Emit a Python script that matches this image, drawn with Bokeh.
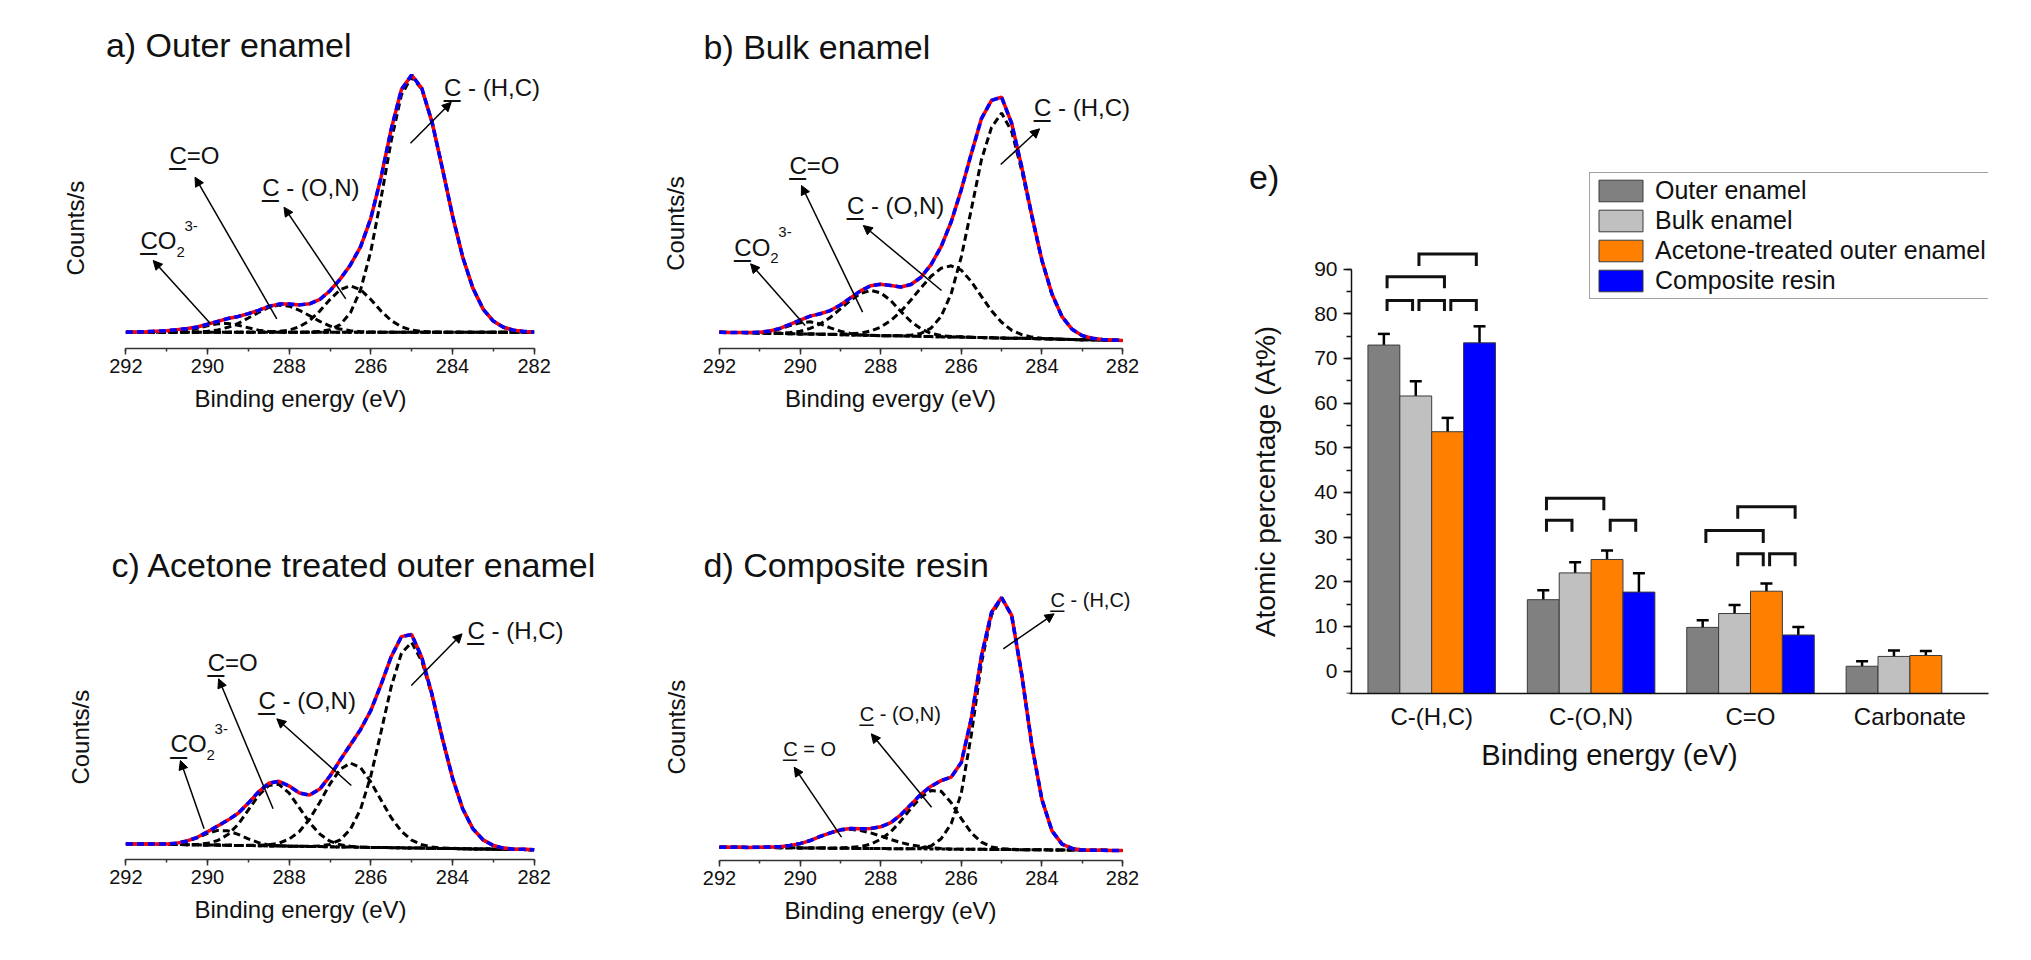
from bokeh.plotting import figure
from bokeh.layouts import row, column
from bokeh.models import (Range1d, SingleIntervalTicker, FixedTicker, Label, Arrow,
                          NormalHead, Whisker, TeeHead, ColumnDataSource)
from bokeh.embed import file_html
from bokeh.resources import INLINE

FONT = "Liberation Sans"
MID = 0.3465   # distance (in em) from the alphabetic baseline to the "middle" text baseline

# ---------------------------------------------------------------- spectra data
# C1s spectra, normalised counts, sampled every 0.25 eV from 292 eV down to 282 eV
energy = [292.0 - 0.25 * i for i in range(41)]

# a) Outer enamel
a_env = [0.000, 0.001, 0.002, 0.004, 0.006, 0.010, 0.014, 0.020, 0.031, 0.042,
         0.053, 0.061, 0.072, 0.085, 0.100, 0.109, 0.109, 0.106, 0.110, 0.127,
         0.161, 0.206, 0.261, 0.332, 0.442, 0.601, 0.788, 0.942, 0.998, 0.946,
         0.815, 0.638, 0.453, 0.292, 0.171, 0.090, 0.043, 0.019, 0.008, 0.003, 0.001]
a_base = [0.0] * 41
a_co3 = [0, 0, 0, 0, .001, .002, .007, .015, .025, .033,
         .034, .027, .017, .008, .003, .001, 0, 0, 0, 0,
         0, 0, 0, 0, 0, 0, 0, 0, 0, 0,
         0, 0, 0, 0, 0, 0, 0, 0, 0, 0, 0]
a_co = [0, 0, 0, 0, 0, 0, .001, .001, .004, .009,
        .019, .034, .055, .077, .096, .105, .101, .085, .064, .042,
        .024, .012, .006, .002, .001, 0, 0, 0, 0, 0,
        0, 0, 0, 0, 0, 0, 0, 0, 0, 0, 0]
a_con = [0, 0, 0, 0, 0, 0, 0, 0, 0, 0,
         0, 0, 0, 0, .001, .003, .008, .021, .045, .082,
         .127, .165, .180, .165, .127, .082, .045, .021, .008, .003,
         .001, 0, 0, 0, 0, 0, 0, 0, 0, 0, 0]
a_chc = [0, 0, 0, 0, 0, 0, 0, 0, 0, 0,
         0, 0, 0, 0, 0, 0, 0, 0, .001, .003,
         .010, .029, .075, .165, .314, .519, .743, .921, .990, .943,
         .814, .638, .453, .292, .171, .090, .043, .019, .008, .003, .001]

# b) Bulk enamel
b_env = [.034, .033, .033, .033, .034, .039, .050, .066, .084, .100,
         .110, .123, .146, .175, .204, .225, .231, .226, .220, .230,
         .260, .312, .386, .488, .620, .769, .912, .987, 1.000, .892,
         .713, .514, .330, .191, .098, .046, .020, .009, .004, .002, 0]
b_base = [.034, .033, .033, .032, .031, .030, .029, .028, .027, .027,
          .026, .025, .024, .023, .022, .021, .020, .020, .019, .018,
          .017, .016, .015, .014, .014, .013, .012, .011, .010, .009,
          .009, .008, .007, .006, .005, .004, .003, .003, .002, .001, 0]
b_co3 = [0, 0, 0, .001, .003, .008, .019, .033, .046, .050,
         .042, .027, .014, .006, .002, .001, 0, 0, 0, 0,
         0, 0, 0, 0, 0, 0, 0, 0, 0, 0,
         0, 0, 0, 0, 0, 0, 0, 0, 0, 0, 0]
b_co = [0, 0, 0, 0, 0, .001, .002, .005, .011, .023,
        .042, .070, .106, .142, .171, .185, .176, .144, .100, .060,
        .031, .013, .005, .002, .001, 0, 0, 0, 0, 0,
        0, 0, 0, 0, 0, 0, 0, 0, 0, 0, 0]
b_con = [0, 0, 0, 0, 0, 0, 0, 0, 0, 0,
         0, .001, .002, .004, .009, .018, .035, .062, .100, .148,
         .200, .248, .282, .293, .275, .229, .169, .111, .065, .033,
         .015, .006, .002, .001, 0, 0, 0, 0, 0, 0, 0]
b_chc = [0, 0, 0, 0, 0, 0, 0, 0, 0, 0,
         0, 0, 0, 0, 0, 0, 0, 0, .001, .004,
         .012, .035, .084, .179, .330, .527, .731, .865, .925, .850,
         .689, .500, .321, .184, .093, .042, .017, .006, .002, .001, 0]

# c) Acetone treated outer enamel
c_env = [.028, .027, .027, .027, .027, .031, .041, .058, .084, .111,
         .138, .170, .217, .269, .309, .318, .296, .264, .254, .282,
         .343, .417, .488, .559, .647, .767, .897, .990, 1.000, .892,
         .721, .520, .335, .191, .098, .046, .020, .008, .003, .002, 0]
c_base = [.028, .027, .027, .026, .025, .025, .024, .023, .022, .022,
          .021, .020, .020, .019, .018, .018, .017, .016, .015, .015,
          .014, .013, .013, .012, .011, .011, .010, .009, .008, .008,
          .007, .006, .006, .005, .004, .004, .003, .002, .001, .001, 0]
c_co3 = [0, 0, 0, .001, .002, .006, .016, .033, .054, .068,
         .067, .052, .031, .014, .005, .001, 0, 0, 0, 0,
         0, 0, 0, 0, 0, 0, 0, 0, 0, 0,
         0, 0, 0, 0, 0, 0, 0, 0, 0, 0, 0]
c_co = [0, 0, 0, 0, 0, 0, .001, .002, .008, .021,
        .050, .098, .165, .234, .281, .286, .246, .179, .111, .058,
        .026, .010, .003, .001, 0, 0, 0, 0, 0, 0,
        0, 0, 0, 0, 0, 0, 0, 0, 0, 0, 0]
c_con = [0, 0, 0, 0, 0, 0, 0, 0, 0, 0,
         0, 0, .001, .002, .005, .013, .033, .069, .127, .206,
         .292, .361, .390, .369, .304, .220, .139, .077, .037, .016,
         .006, .002, .001, 0, 0, 0, 0, 0, 0, 0, 0]
c_chc = [0, 0, 0, 0, 0, 0, 0, 0, 0, 0,
         0, 0, 0, 0, 0, 0, 0, 0, .001, .003,
         .011, .033, .082, .177, .332, .536, .748, .904, .955, .868,
         .708, .512, .328, .186, .094, .042, .017, .006, .002, .001, 0]

# d) Composite resin
d_env = [.013, .013, .013, .012, .013, .014, .015, .020, .027, .039,
         .055, .069, .081, .086, .085, .086, .093, .109, .140, .180,
         .221, .252, .274, .288, .345, .519, .763, .934, .992, .922,
         .689, .414, .200, .077, .025, .008, .002, .001, .001, 0, 0]
d_base = [.013, .013, .013, .012, .012, .012, .011, .011, .010, .010,
          .010, .009, .009, .009, .008, .008, .008, .007, .007, .007,
          .007, .006, .006, .005, .005, .005, .005, .004, .004, .004,
          .003, .003, .003, .002, .002, .002, .001, .001, .001, 0, 0]
d_co = [0, 0, 0, 0, .001, .002, .004, .009, .017, .029,
        .045, .060, .071, .074, .070, .061, .049, .036, .024, .015,
        .009, .005, .002, .001, 0, 0, 0, 0, 0, 0,
        0, 0, 0, 0, 0, 0, 0, 0, 0, 0, 0]
d_con = [0, 0, 0, 0, 0, 0, 0, 0, 0, 0,
         0, 0, .001, .003, .007, .017, .036, .066, .109, .158,
         .202, .229, .226, .182, .120, .064, .028, .010, .003, .001,
         0, 0, 0, 0, 0, 0, 0, 0, 0, 0, 0]
d_chc = [0, 0, 0, 0, 0, 0, 0, 0, 0, 0,
         0, 0, 0, 0, 0, 0, 0, 0, 0, 0,
         .003, .012, .040, .100, .220, .450, .730, .920, .985, .917,
         .686, .411, .197, .075, .023, .006, .001, 0, 0, 0, 0]

# ---------------------------------------------------------------- bar chart data
categories = ["C-(H,C)", "C-(O,N)", "C=O", "Carbonate"]
series_names = ["Outer enamel", "Bulk enamel", "Acetone-treated outer enamel", "Composite resin"]
outer_vals = [73.0, 16.0, 9.8, 1.1]
outer_err = [2.5, 2.1, 1.6, 1.1]
bulk_vals = [61.6, 22.0, 12.9, 3.3]
bulk_err = [3.3, 2.4, 1.9, 1.3]
acetone_vals = [53.6, 25.0, 17.9, 3.5]
acetone_err = [3.1, 2.0, 1.7, 1.0]
resin_vals = [73.5, 17.7, 8.1, None]
resin_err = [3.7, 4.2, 1.8, None]

# significance brackets: category, first bar, second bar, top, leg end
br_cat = [0, 0, 0, 0, 0, 1, 1, 1, 2, 2, 2, 2]
br_from = [0, 1, 2, 0, 1, 0, 2, 0, 0, 1, 1, 2]
br_to = [1, 2, 3, 2, 3, 1, 3, 2, 2, 3, 2, 3]
br_top = [83.0, 83.0, 83.0, 88.3, 93.4, 33.8, 33.8, 38.7, 31.5, 36.8, 26.3, 26.3]
br_leg = [80.6, 80.6, 80.6, 85.7, 90.7, 31.2, 31.2, 36.0, 28.7, 34.1, 23.5, 23.5]

# ---------------------------------------------------------------- helpers
TXT = "#111111"


def text_label(x, base_y_fn, base_py, text, fs, **kw):
    """Label whose alphabetic baseline sits at canvas row base_py (drawn with 'middle')."""
    return Label(x=x, y=base_y_fn(base_py - MID * fs), text=text, text_font=FONT,
                 text_font_size=f"{fs}px", text_color=TXT, text_baseline="middle",
                 text_align="left", **kw)


def spectrum_panel(geom, title, xlabel, env, base, comps, tags, tag_size):
    fx0, fy0, fw, fh = geom["fig"]
    fb = geom["frame_bottom"]
    e0, e1 = geom["e292"], geom["e282"]
    z, o = geom["zero"], geom["one"]
    s = (e1 - e0) / 10.0

    def E(px):
        return 292.0 - (px - e0) / s

    def H(py):
        return (z - py) / (z - o)

    p = figure(width=fw, height=fh,
               x_range=Range1d(E(fx0), E(fx0 + fw)),
               y_range=Range1d(H(fb), H(fy0)),
               output_backend="svg", toolbar_location=None, y_axis_location=None,
               min_border_left=0, min_border_right=0, min_border_top=0,
               min_border_bottom=int(round(fy0 + fh - fb)))
    p.outline_line_color = None
    p.grid.visible = False
    p.background_fill_color = "white"
    p.border_fill_color = "white"

    ax = p.xaxis[0]
    ax.ticker = SingleIntervalTicker(interval=2, num_minor_ticks=2)
    ax.bounds = (282, 292)
    ax.axis_label = xlabel
    ax.axis_label_text_font = FONT
    ax.axis_label_text_font_style = "normal"
    ax.axis_label_text_font_size = "24px"
    ax.axis_label_text_color = TXT
    ax.axis_label_standoff = 9
    ax.major_label_text_font = FONT
    ax.major_label_text_font_size = "20px"
    ax.major_label_text_color = TXT
    ax.major_label_standoff = 4
    ax.axis_line_width = 1.5
    ax.axis_line_color = "#333333"
    ax.major_tick_line_color = "#333333"
    ax.minor_tick_line_color = "#333333"
    ax.major_tick_line_width = 1.5
    ax.minor_tick_line_width = 1.5
    ax.major_tick_out = 6
    ax.major_tick_in = 0
    ax.minor_tick_out = 3
    ax.minor_tick_in = 0

    # fitted components (on top of their baseline) and baseline
    for comp in comps:
        ys = [b + c for b, c in zip(base, comp)]
        p.line(energy, ys, line_color="black", line_width=3, line_dash="7 4")
    p.line(energy, base, line_color="black", line_width=3, line_dash="4 2")
    # measured (red) and fitted envelope (blue dashed)
    p.line(energy, env, line_color="#ff0000", line_width=3.5)
    p.line(energy, env, line_color="#0000ff", line_width=3.5, line_dash="7 4")

    # title
    tx, ty = geom["title"]
    p.add_layout(text_label(E(tx), H, ty, title, 34))
    # y label
    cx_, cy_ = geom["ylabel"]
    p.add_layout(Label(x=E(cx_), y=H(cy_), text="Counts/s", text_font=FONT, text_font_size="24px",
                       text_color=TXT, angle=90, angle_units="deg",
                       text_baseline="middle", text_align="center"))

    for tg in tags:
        px, py = tg["pos"]
        main = "CO" if tg["kind"] == "co3" else tg["text"]
        p.add_layout(text_label(E(px), H, py, main, tag_size))
        # underline of the first C
        us = round(tag_size * 1.22, 1)
        p.add_layout(text_label(E(px), H, py, "_", us))
        if tg["kind"] == "co3":
            w = 1.5 * tag_size
            p.add_layout(text_label(E(px + w), H, py + 8, "2", 15))
            p.add_layout(text_label(E(px + w + 8), H, py - 18, "3-", 15))
        (t0, t1), (h0, h1) = tg["tail"], tg["head"]
        p.add_layout(Arrow(x_start=E(t0), y_start=H(t1), x_end=E(h0), y_end=H(h1),
                           line_width=1.5, line_color="black",
                           end=NormalHead(size=9, fill_color="black", line_color="black",
                                          line_width=1)))
    return p


geo_a = dict(fig=(0, 0, 600, 480), frame_bottom=348, e292=125.4, e282=533.6,
             zero=331.7, one=74.0, title=(105.4, 56.7), ylabel=(75.0, 227.7))
geo_b = dict(fig=(600, 0, 580, 480), frame_bottom=348, e292=719.0, e282=1122.0,
             zero=340.0, one=96.7, title=(703.0, 58.3), ylabel=(674.7, 223.0))
geo_c = dict(fig=(0, 480, 600, 480), frame_bottom=859, e292=125.4, e282=533.6,
             zero=849.3, one=634.0, title=(110.9, 576.7), ylabel=(80.0, 736.7))
geo_d = dict(fig=(600, 480, 580, 480), frame_bottom=860, e292=719.0, e282=1122.0,
             zero=850.0, one=595.0, title=(703.0, 576.7), ylabel=(675.6, 726.7))

tags_a = [
    dict(kind="plain", text="C=O", pos=(169.0, 163.3), tail=(276.3, 318.3), head=(194.5, 176.7)),
    dict(kind="co3", pos=(139.9, 248.3), tail=(210.1, 323.3), head=(152.7, 260.0)),
    dict(kind="plain", text="C - (O,N)", pos=(261.7, 195.0), tail=(345.3, 298.3), head=(283.5, 206.7)),
    dict(kind="plain", text="C - (H,C)", pos=(443.5, 95.0), tail=(410.0, 142.7), head=(450.7, 101.7)),
]
tags_b = [
    dict(kind="plain", text="C=O", pos=(789.0, 173.3), tail=(862.1, 311.7), head=(801.0, 185.0)),
    dict(kind="co3", pos=(733.8, 255.0), tail=(804.6, 325.0), head=(750.1, 263.3)),
    dict(kind="plain", text="C - (O,N)", pos=(846.4, 213.3), tail=(941.0, 290.0), head=(862.8, 225.0)),
    dict(kind="plain", text="C - (H,C)", pos=(1033.6, 115.0), tail=(1000.2, 164.0), head=(1039.1, 128.3)),
]
tags_c = [
    dict(kind="plain", text="C=O", pos=(207.2, 670.0), tail=(272.6, 808.3), head=(218.1, 678.3)),
    dict(kind="co3", pos=(170.1, 751.7), tail=(203.6, 828.3), head=(179.9, 760.0)),
    dict(kind="plain", text="C - (O,N)", pos=(258.1, 708.3), tail=(350.8, 785.0), head=(276.3, 718.3)),
    dict(kind="plain", text="C - (H,C)", pos=(467.1, 638.3), tail=(410.8, 685.0), head=(461.6, 633.3)),
]
tags_d = [
    dict(kind="plain", text="C = O", pos=(782.8, 755.0), tail=(841.0, 836.7), head=(793.7, 766.7)),
    dict(kind="plain", text="C - (O,N)", pos=(859.2, 720.0), tail=(931.1, 806.7), head=(870.8, 733.3)),
    dict(kind="plain", text="C - (H,C)", pos=(1050.0, 606.7), tail=(1002.8, 648.3), head=(1053.6, 613.3)),
]

pa = spectrum_panel(geo_a, "a) Outer enamel", "Binding energy (eV)", a_env, a_base,
                    [a_co3, a_co, a_con, a_chc], tags_a, 24)
pb = spectrum_panel(geo_b, "b) Bulk enamel", "Binding evergy (eV)", b_env, b_base,
                    [b_co3, b_co, b_con, b_chc], tags_b, 24)
pc = spectrum_panel(geo_c, "c) Acetone treated outer enamel", "Binding energy (eV)", c_env, c_base,
                    [c_co3, c_co, c_con, c_chc], tags_c, 24)
pd = spectrum_panel(geo_d, "d) Composite resin", "Binding energy (eV)", d_env, d_base,
                    [d_co, d_con, d_chc], tags_d, 20)

# ---------------------------------------------------------------- bar chart
unit_px = 159.4            # px per category
cat0_px = 1431.2           # canvas x of first category
val_px = 4.467             # px per At%
yaxis_px = 1351            # canvas x of the y axis line
xaxis_start_px = 1349
frame_l, frame_r, frame_t, frame_b = 1230, 1988, 150, 693
fig_x0, fig_w, fig_h = 1180, 851, 960


def cx(px):
    return (px - cat0_px) / unit_px


x_start = cx(frame_l)
x_end = cx(frame_r)
y_start = -5.0
y_end = y_start + (frame_b - frame_t) / val_px


def cy(py):
    return y_start + (frame_b - py) / val_px


pe = figure(width=fig_w, height=fig_h, x_range=Range1d(x_start, x_end),
            y_range=Range1d(y_start, y_end), output_backend="svg", toolbar_location=None,
            min_border_left=frame_l - fig_x0, min_border_right=fig_x0 + fig_w - frame_r,
            min_border_top=frame_t, min_border_bottom=fig_h - frame_b)
pe.outline_line_color = None
pe.grid.visible = False

offsets = [-0.3, -0.1, 0.1, 0.3]
bar_w = 0.2
colors = ["#808080", "#c0c0c0", "#ff8000", "#0000ff"]
all_vals = [outer_vals, bulk_vals, acetone_vals, resin_vals]
all_errs = [outer_err, bulk_err, acetone_err, resin_err]

wx, wup, wlo = [], [], []
for k in range(4):
    xs, tops = [], []
    for i, v in enumerate(all_vals[k]):
        if v is None:
            continue
        xs.append(i + offsets[k])
        tops.append(v)
        wx.append(i + offsets[k])
        wup.append(v + all_errs[k][i])
        wlo.append(v - all_errs[k][i])
    pe.vbar(x=xs, top=tops, bottom=y_start, width=bar_w, fill_color=colors[k],
            line_color="#3a3a3a", line_width=1, legend_label=series_names[k])

wsrc = ColumnDataSource(dict(x=wx, upper=wup, lower=wlo))
pe.add_layout(Whisker(source=wsrc, base="x", upper="upper", lower="lower", dimension="height",
                      line_color="black", line_width=2.5,
                      upper_head=TeeHead(size=12, line_width=2.5, line_color="black"),
                      lower_head=TeeHead(size=12, line_width=2.5, line_color="black")))

bxs, bys = [], []
inset = 0.02
for g, f, t, top, leg in zip(br_cat, br_from, br_to, br_top, br_leg):
    x0 = g + offsets[f] + inset
    x1 = g + offsets[t] - inset
    bxs.append([x0, x0, x1, x1])
    bys.append([leg, top, top, leg])
pe.multi_line(bxs, bys, line_color="#111111", line_width=3, line_join="miter")

xa = pe.xaxis[0]
xa.ticker = FixedTicker(ticks=list(range(len(categories))))
xa.major_label_overrides = {i: c for i, c in enumerate(categories)}
xa.bounds = (cx(xaxis_start_px), x_end)
xa.major_tick_line_color = None
xa.minor_tick_line_color = None
xa.major_tick_out = 0
xa.major_tick_in = 0
xa.major_label_standoff = 9
xa.major_label_text_font = FONT
xa.major_label_text_font_size = "24px"
xa.major_label_text_color = TXT
xa.axis_label = "Binding energy (eV)"
xa.axis_label_text_font = FONT
xa.axis_label_text_font_size = "29px"
xa.axis_label_text_font_style = "normal"
xa.axis_label_text_color = TXT
xa.axis_label_standoff = 6
xa.axis_line_width = 1.5
xa.axis_line_color = "#111111"

ya = pe.yaxis[0]
ya.fixed_location = cx(yaxis_px)
ya.ticker = SingleIntervalTicker(interval=10, num_minor_ticks=2)
ya.bounds = (-5, 90)
ya.major_tick_out = 8
ya.major_tick_in = 0
ya.minor_tick_out = 5
ya.minor_tick_in = 0
ya.major_tick_line_width = 1.5
ya.minor_tick_line_width = 1.5
ya.major_tick_line_color = "#111111"
ya.minor_tick_line_color = "#111111"
ya.major_label_standoff = 6
ya.major_label_text_font = FONT
ya.major_label_text_font_size = "21px"
ya.major_label_text_color = TXT
ya.axis_label = "Atomic percentage (At%)"
ya.axis_label_text_font = FONT
ya.axis_label_text_font_size = "28px"
ya.axis_label_text_font_style = "normal"
ya.axis_label_text_color = TXT
ya.axis_label_standoff = 30
ya.axis_line_width = 1.5
ya.axis_line_color = "#111111"

lg = pe.legend[0]
lg.location = (1589 - frame_l, frame_b - 299)
lg.margin = 0
lg.padding = 3
lg.spacing = 1
lg.glyph_width = 55
lg.glyph_height = 27
lg.label_standoff = 7
lg.label_text_font = FONT
lg.label_text_font_size = "25px"
lg.label_text_color = TXT
lg.label_height = 27
lg.border_line_color = "#444444"
lg.border_line_width = 1
lg.background_fill_alpha = 1.0

pe.add_layout(text_label(cx(1248.5), cy, 188.3, "e)", 34))

layout = row(column(pa, pc), column(pb, pd), pe)
open("out.html", "w").write(file_html(layout, INLINE))
